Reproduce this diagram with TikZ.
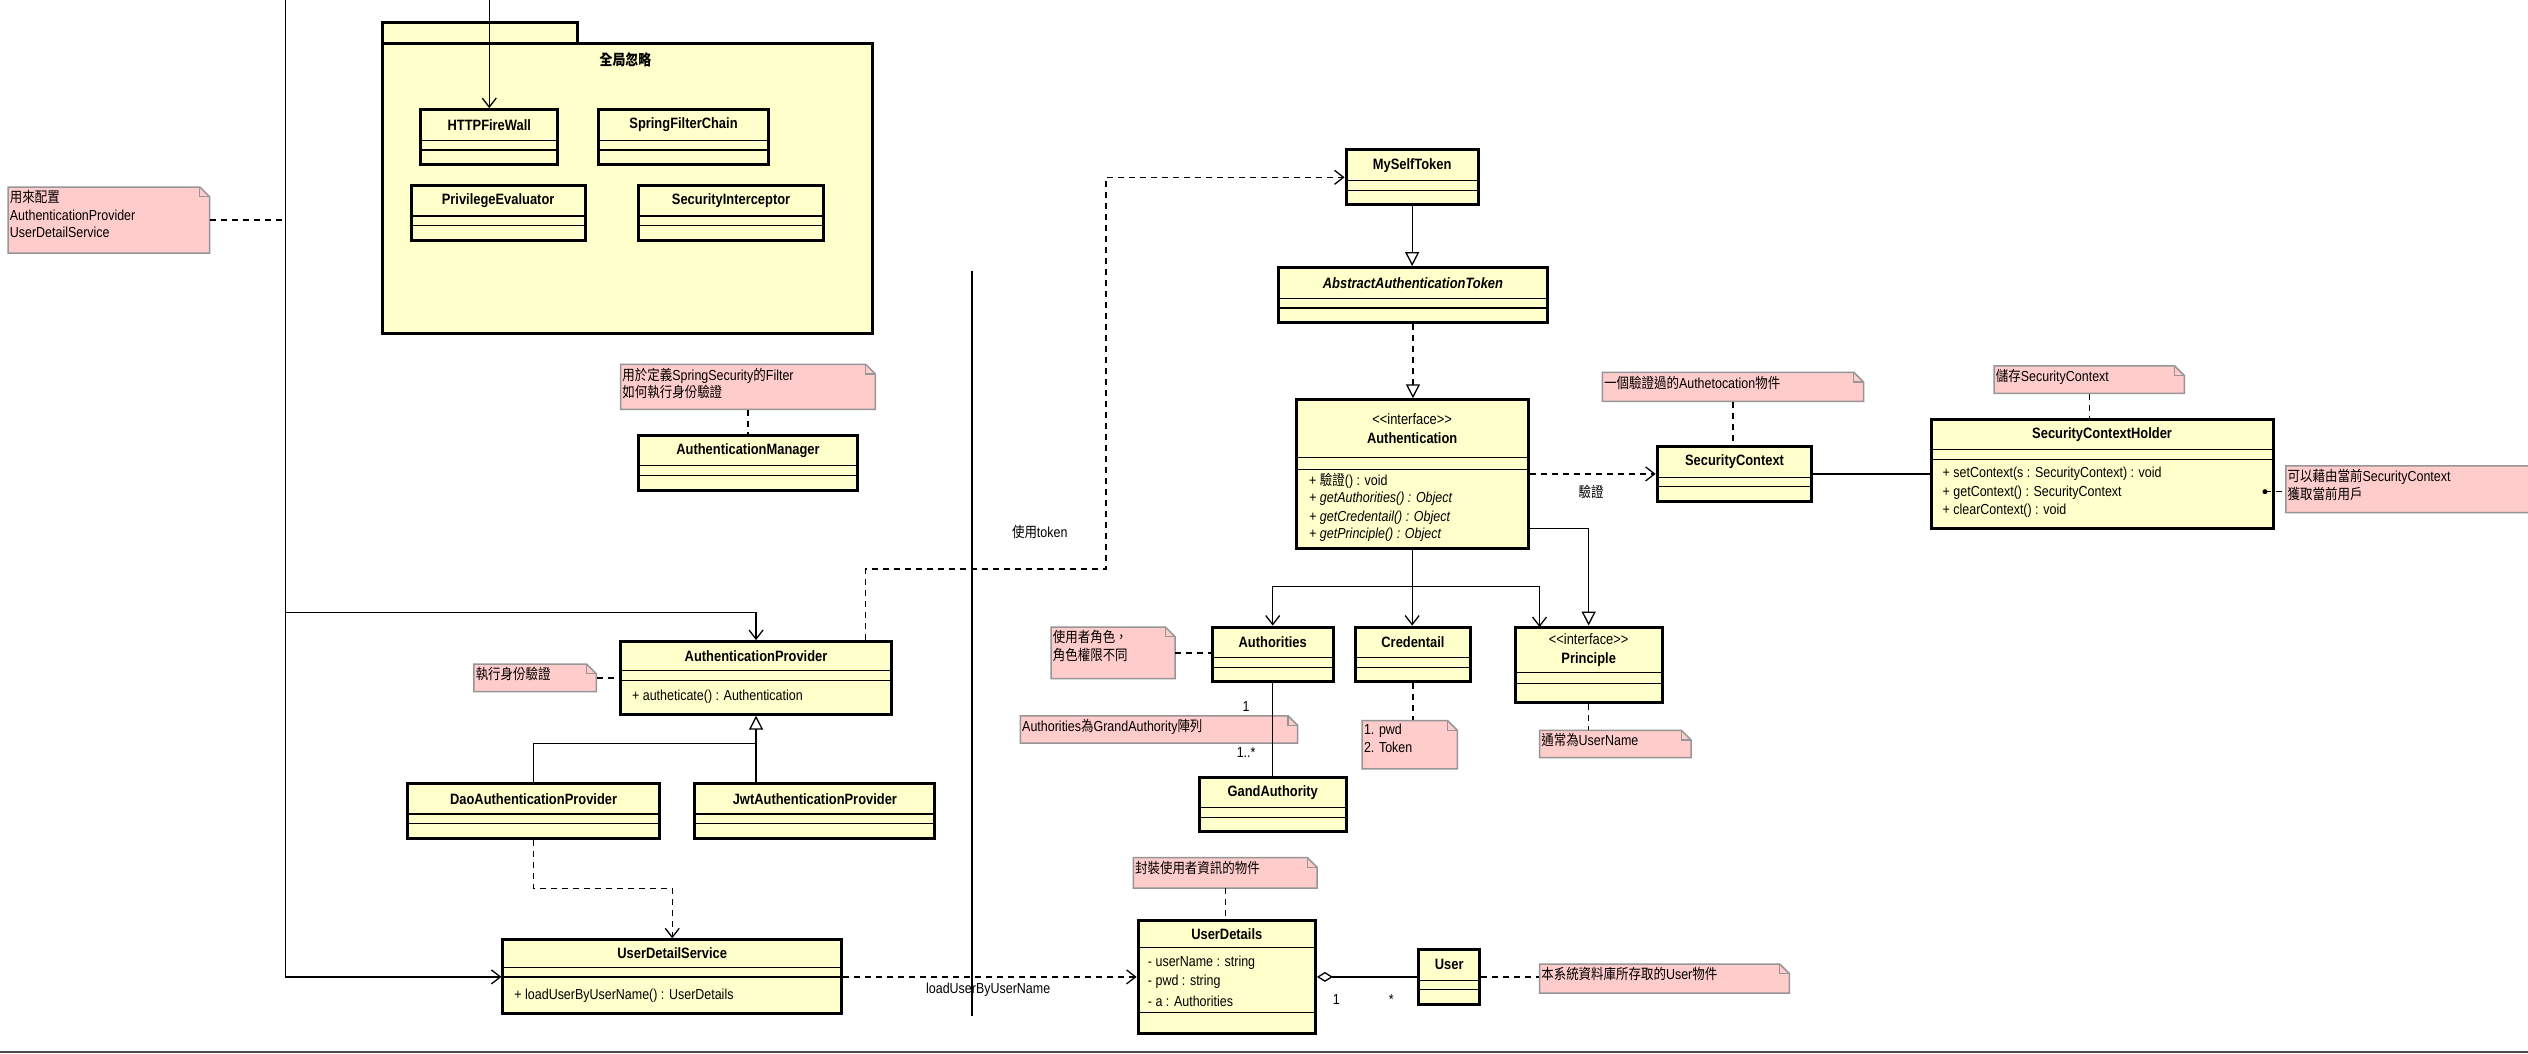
\documentclass[tikz,border=0pt]{standalone}
\usepackage{fontspec}
\setmainfont[FakeStretch=0.86]{Liberation Sans}
\newfontfamily\zhf[FakeStretch=0.86]{Noto Sans CJK TC}
\newcommand\zh[1]{{\zhf #1}}
\usetikzlibrary{arrows.meta}
\definecolor{clsfill}{RGB}{255,255,204}
\definecolor{notefill}{RGB}{255,204,204}
\definecolor{notebd}{RGB}{150,150,150}
\tikzset{
 clsbox/.style={draw=black, line width=3pt, fill=clsfill, inner sep=0pt},
 ctitle/.style={font=\fontsize{15}{18}\selectfont\bfseries, inner sep=0pt},
 meth/.style={font=\fontsize{14.5}{17}\selectfont, anchor=west, inner sep=0pt},
 ntext/.style={font=\fontsize{14.5}{17.7}\selectfont, anchor=north west, align=left, inner sep=0pt},
 conn/.style={line width=1.3pt},
 assoc/.style={conn, -{Straight Barb[length=9pt,width=14pt]}},
 gen/.style={conn, -{Triangle[open,length=14pt,width=14pt]}},
 dline/.style={conn, dash pattern=on 6pt off 5pt},
 dep/.style={dline, -{Straight Barb[length=9pt,width=14pt]}},
 real/.style={dline, -{Triangle[open,length=14pt,width=14pt]}},
 lbl/.style={font=\fontsize{14.5}{17}\selectfont, inner sep=0pt},
}
\newcommand\umlclass[8]{%
 \node[clsbox, minimum width={(#4-#2)*1.612pt}, minimum height={(#5-#3)*1.612pt}] (#1) at ({(#2+#4)/2},{(#3+#5)/2}) {};
 \draw[line width=1.2pt] (#2,#6) -- (#4,#6) (#2,#7) -- (#4,#7);
 \node[ctitle, align=center] at ({(#2+#4)/2},{(#3+#6)/2}) {#8};
}
\newcommand\umlnote[6]{%
 \node[inner sep=0pt, minimum width={(#4-#2)*1.612pt}, minimum height={(#5-#3)*1.612pt}] (#1) at ({(#2+#4)/2},{(#3+#5)/2}) {};
 \filldraw[fill=notefill, draw=notebd, line width=1.5pt] (#2,#3) -- ({#4-6},#3) -- (#4,{#3+6}) -- (#4,#5) -- (#2,#5) -- cycle;
 \draw[draw=notebd, line width=1.2pt] ({#4-6},#3) -- ({#4-6},{#3+6}) -- (#4,{#3+6});
 \node[ntext] at ({#2+1},{#3+2}) {#6};
}
\begin{document}
\begin{tikzpicture}[x=1.612pt, y=-1.612pt]
\useasboundingbox (0,0) rectangle (1568.2,653.8);
\fill[white] (0,0) rectangle (1568.2,653.8);
\draw[line width=2pt, black!70] (0,652.8) -- (1568.2,652.8);

% package
\draw[clsbox] (237,14) rectangle (358,27);
\node[clsbox, minimum width={(541-237)*1.612pt}, minimum height={(207-27)*1.612pt}] (pkg) at ({(237+541)/2},{(27+207)/2}) {};
\node[ctitle] at (388,37) {\zh{全局忽略}};

\umlclass{http}{261}{68}{346}{102}{87}{93}{HTTPFireWall}
\umlclass{sfc}{371}{68}{477}{102}{87}{93}{SpringFilterChain}
\umlclass{pe}{255}{115}{363}{149}{134}{140}{PrivilegeEvaluator}
\umlclass{si}{396}{115}{511}{149}{134}{140}{SecurityInterceptor}
\umlclass{am}{396}{270}{532}{304}{289}{295}{AuthenticationManager}
\umlclass{mst}{835}{93}{917}{127}{112}{118}{MySelfToken}
\umlclass{aat}{793}{166}{960}{200}{185}{191}{\itshape AbstractAuthenticationToken}
\umlclass{auth}{804}{248}{948}{340}{284}{291}{\mdseries <{}<interface>{}>\\[1pt] Authentication}
\node[meth] at (812,298) {+ \zh{驗證}() : void};
\node[meth] at (812,309.5) {\itshape + getAuthorities() : Object};
\node[meth] at (812,321) {\itshape + getCredentail() : Object};
\node[meth] at (812,332) {\itshape + getPrinciple() : Object};
\umlclass{sc}{1028}{277}{1124}{311}{296}{302}{SecurityContext}
\umlclass{sch}{1198}{260}{1410}{328}{279}{285}{SecurityContextHolder}
\node[meth] at (1205,294) {+ setContext(s : SecurityContext) : void};
\node[meth] at (1205,305.5) {+ getContext() : SecurityContext};
\node[meth] at (1205,317) {+ clearContext() : void};
\umlclass{authz}{752}{389}{827}{423}{408}{414}{Authorities}
\umlclass{cred}{841}{389}{912}{423}{408}{414}{Credentail}
\umlclass{prin}{940}{389}{1031}{436}{417}{424}{\mdseries <{}<interface>{}>\\[1pt] Principle}
\umlclass{ga}{744}{482}{835}{516}{501}{507}{GandAuthority}
\umlclass{ap}{385}{398}{553}{443}{416}{422}{AuthenticationProvider}
\node[meth] at (392,432) {+ autheticate() : Authentication};
\umlclass{dao}{253}{486}{409}{520}{505}{511}{DaoAuthenticationProvider}
\umlclass{jwt}{431}{486}{580}{520}{505}{511}{JwtAuthenticationProvider}
\umlclass{uds}{312}{583}{522}{629}{600}{606}{UserDetailService}
\node[meth] at (319,617.5) {+ loadUserByUserName() : UserDetails};
\umlclass{ud}{706}{571}{816}{641}{588}{628}{UserDetails}
\node[meth] at (712,597) {- userName : string};
\node[meth] at (712,609) {- pwd : string};
\node[meth] at (712,621) {- a : Authorities};
\umlclass{user}{880}{589}{918}{623}{608}{614}{User}

% notes
\umlnote{n1}{5}{116}{130}{157}{\zh{用來配置}\\AuthenticationProvider\\UserDetailService}
\umlnote{n2}{385}{226}{543}{254}{\zh{用於定義}SpringSecurity\zh{的}Filter\\\zh{如何執行身份驗證}}
\umlnote{n3}{994}{231}{1156}{249}{\zh{一個驗證過的}Authetocation\zh{物件}}
\umlnote{n4}{1237}{227}{1355}{244}{\zh{儲存}SecurityContext}
\umlnote{n5}{1418}{289}{1575}{318}{\zh{可以藉由當前}SecurityContext\\\zh{獲取當前用戶}}
\umlnote{n6}{652}{389}{729}{421}{\zh{使用者角色，}\\\zh{角色權限不同}}
\umlnote{n7}{633}{444}{805}{461}{Authorities\zh{為}GrandAuthority\zh{陣列}}
\umlnote{n8}{845}{447}{904}{477}{1. pwd\\2. Token}
\umlnote{n9}{955}{453}{1049}{470}{\zh{通常為}UserName}
\umlnote{n10}{294}{412}{370}{429}{\zh{執行身份驗證}}
\umlnote{n11}{703}{532}{817}{551}{\zh{封裝使用者資訊的物件}}
\umlnote{n12}{955}{598}{1110}{616}{\zh{本系統資料庫所存取的}User\zh{物件}}

% coordinates
\coordinate (ltop) at (177,-2);
\coordinate (lmid) at (177,380);
\coordinate (ttop) at (303.5,-2);
\coordinate (b1) at (537,353);
\coordinate (b2) at (686,353);
\coordinate (b3) at (686,110);
\coordinate (j) at (876,364);
\coordinate (pl) at (955,389);
\coordinate (ar) at (948,328);
\coordinate (g1) at (469,461);
\coordinate (d1) at (417,551);
\coordinate (dot) at (1405,305);
\coordinate (v1) at (603,168);
\coordinate (v2) at (603,630);

% connectors
\draw[conn] (v1) -- (v2);
\draw[assoc] (ltop) |- (uds.west);
\draw[assoc] (lmid) -| (ap.north);
\draw[dline] (n1.east) -- (n1.east -| ltop);
\draw[assoc] (ttop) -- (http.north);
\draw[dline] (n2.south) -- (am.north);
\draw[dep] (ap.north -| b1) -- (b1) -- (b2) -- (b3) -- (mst.west |- b3);
\node[lbl] at (645,330) {\zh{使用}token};
\draw[gen] (mst.south) -- (aat.north -| mst.south);
\draw[real] (aat.south) -- (auth.north -| aat.south);
\draw[dep] (auth.east) -- (sc.west);
\node[lbl] at (987,305) {\zh{驗證}};
\draw[conn] (sc.east) -- (sc.east -| sch.west);
\draw[dline] (n3.south) -- (n3.south |- sc.north);
\draw[dline] (n4.south) -- (n4.south |- sch.north);
\draw[dline] (dot) -- (dot -| n5.west);
\fill (dot) circle (2.5pt);
\draw[assoc] (auth.south) -- (auth.south |- cred.north);
\draw[assoc] (j) -| (authz.north);
\draw[assoc] (j) -| (pl);
\draw[gen] (ar) -| (prin.north);
\draw[dline] (n6.east) -- (n6.east -| authz.west);
\draw[conn] (authz.south) -- (authz.south |- ga.north);
\node[lbl] at (773,438) {1};
\node[lbl] at (773,467) {1..*};
\draw[dline] (cred.south) -- (cred.south |- n8.north);
\draw[dline] (prin.south) -- (prin.south |- n9.north);
\draw[dline] (n10.east) -- (n10.east -| ap.west);
\draw[conn] (dao.north) |- (g1);
\draw[conn] (jwt.north -| g1) -- (g1);
\draw[gen] (g1) -- (ap.south);
\draw[dep] (dao.south) |- (d1) -- (uds.north);
\draw[dep] (uds.east) -- (ud.west);
\node[lbl] at (613,614) {loadUserByUserName};
\draw[dline] (n11.south) -- (n11.south |- ud.north);
\draw[conn, {Diamond[open,length=16pt,width=10pt]}-] (ud.east) -- (user.west);
\node[lbl] at (829,620) {1};
\node[lbl] at (863,620) {*};
\draw[dline] (user.east) -- (user.east -| n12.west);
\end{tikzpicture}
\end{document}
